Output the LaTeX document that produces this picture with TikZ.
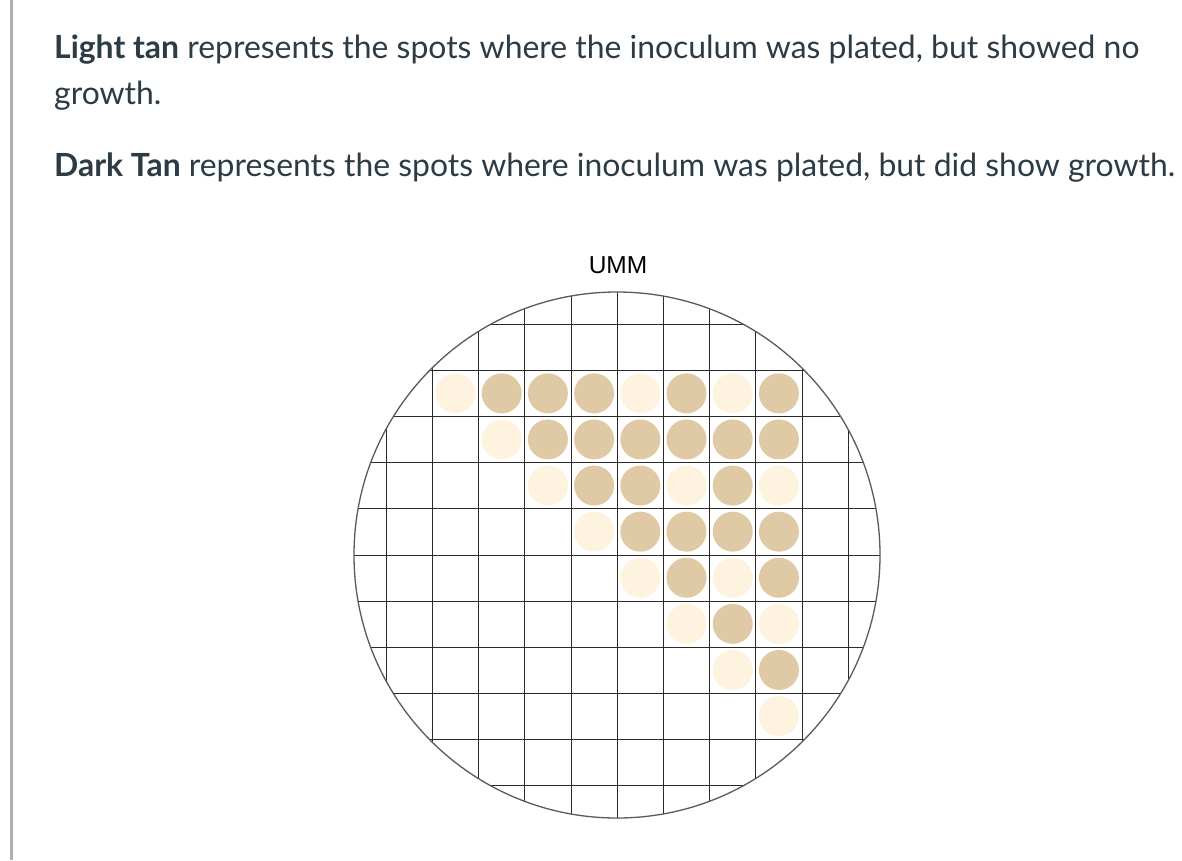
\documentclass[tikz,border=0pt]{standalone}
\usepackage{fontspec}
\setmainfont{Lato}
\newfontfamily\umfont{Liberation Sans}
\definecolor{txt}{HTML}{2D3B45}
\definecolor{lighttan}{HTML}{FDF3DE}
\definecolor{darktan}{HTML}{E0CAA6}
\definecolor{gridc}{HTML}{2A2A2A}
\definecolor{rimc}{HTML}{5A5A5A}
\definecolor{barc}{HTML}{B0B0B0}
\tikzset{
  para/.style={anchor=base west, inner sep=0pt, text=txt, font=\fontsize{31.9}{36}\selectfont},
  spotL/.style={circle, fill=lighttan, draw=none, minimum size=40pt, inner sep=0pt},
  spotD/.style={circle, fill=darktan, draw=none, minimum size=40pt, inner sep=0pt},
  gridline/.style={draw=gridc, line width=1.3pt},
  rim/.style={draw=rimc, line width=1.3pt},
}
\begin{document}
\begin{tikzpicture}[x=1pt,y=-1pt]
\useasboundingbox (0,0) rectangle (1182,860);
\fill[white] (0,0) rectangle (1182,860);
% left bar
\fill[barc] (10,0) rectangle (12.5,860);
% texts
\node[para] (t1) at (54,58) {\textbf{Light tan} represents the spots where the inoculum was plated, but showed no};
\node[para] (t2) at (54,104) {growth.};
\node[para] (t3) at (54,176) {\textbf{Dark Tan} represents the spots where inoculum was plated, but did show growth.};
\node[font=\umfont\fontsize{24.5}{28}\selectfont, text=black, inner sep=0pt] (umm) at (618,265) {UMM};
% plate
\coordinate (c) at (617,555);
\def\cx{617.2}\def\cy{554.7}\def\dx{46.2}\def\dy{46.1}
% spots
\foreach \c/\r/\t [count=\i] in {
 -4/-4/L,-3/-4/D,-2/-4/D,-1/-4/D,0/-4/L,1/-4/D,2/-4/L,3/-4/D,
 -3/-3/L,-2/-3/D,-1/-3/D,0/-3/D,1/-3/D,2/-3/D,3/-3/D,
 -2/-2/L,-1/-2/D,0/-2/D,1/-2/L,2/-2/D,3/-2/L,
 -1/-1/L,0/-1/D,1/-1/D,2/-1/D,3/-1/D,
 0/0/L,1/0/D,2/0/L,3/0/D,
 1/1/L,2/1/D,3/1/L,
 2/2/L,3/2/D,
 3/3/L}
 \node[spot\t] (s\i) at ({\cx+\dx*(\c+0.5)},{\cy+\dy*(\r+0.5)}) {};
% grid
\begin{scope}
\clip (c) circle[radius=263];
\foreach \gx in {386.5,432.5,478.5,524.5,571.5,617.5,663.5,709.5,755.5,802.5,848.5}
  \draw[gridline] (\gx,280) -- (\gx,830);
\foreach \gy in {324.5,370.5,416.5,462.5,508.5,555.5,601.5,647.5,693.5,739.5,785.5}
  \draw[gridline] (340,\gy) -- (900,\gy);
\end{scope}
\draw[rim] (c) circle[radius=263];
\end{tikzpicture}
\end{document}
